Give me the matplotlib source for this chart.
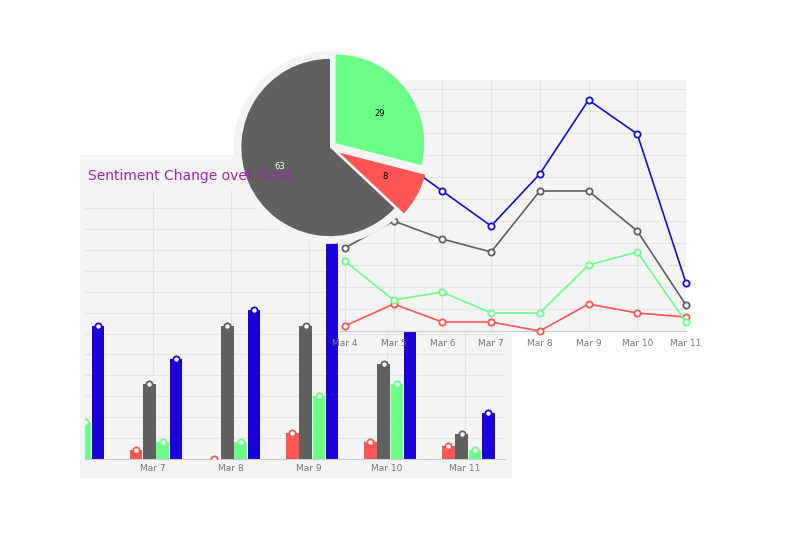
import matplotlib
matplotlib.use("Agg")
import matplotlib.pyplot as plt
from matplotlib.ticker import MultipleLocator
import numpy as np

dates = ["Mar 4", "Mar 5", "Mar 6", "Mar 7", "Mar 8", "Mar 9", "Mar 10", "Mar 11"]
negative = [1.0, 5.4, 1.8, 1.8, 0.0, 5.4, 3.6, 2.8]
neutral = [16.6, 22.0, 18.4, 15.8, 28.0, 28.0, 20.0, 5.2]
positive = [14.0, 6.2, 7.8, 3.6, 3.6, 13.2, 15.8, 1.8]
total = [26.0, 35.0, 28.0, 21.0, 31.4, 46.2, 39.4, 9.6]
pie_labels = ["Positive", "Negative", "Neutral"]
pie_values = [29, 8, 63]

colors = ["#ff5555", "#606060", "#6bff88", "#1a00d9"]
series = [negative, neutral, positive, total]
W, H = 791, 558
fig = plt.figure(figsize=(W/100, H/100), dpi=100)
fig.patch.set_facecolor("white")

def rect(x0, y0, x1, y1):
    return [x0/W, 1-y1/H, (x1-x0)/W, (y1-y0)/H]

def style(ax):
    ax.set_facecolor("#f4f4f4")
    for s in ax.spines.values():
        s.set_visible(False)
    ax.spines["bottom"].set_visible(True)
    ax.spines["bottom"].set_color("#cccccc")
    ax.grid(True, color="#e4e4e4", lw=0.8)
    ax.set_axisbelow(True)
    ax.tick_params(length=0, labelsize=6.5, labelcolor="#777777")
    ax.yaxis.set_major_locator(MultipleLocator(4.4))
    ax.set_yticklabels([])

# background panel for bar chart
bg = fig.add_axes(rect(80, 155, 512, 478)); bg.set_facecolor("#f4f4f4")
bg.set_xticks([]); bg.set_yticks([])
for s in bg.spines.values(): s.set_visible(False)
fig.text(88/W, 1-176/H, "Sentiment Change over Time", color="#a424b4", fontsize=10, va="center")

ax1 = fig.add_axes(rect(85, 190, 505, 459))
style(ax1)
x = np.arange(len(dates))
w = 0.17
for k, (vals, c) in enumerate(zip(series, colors)):
    xs = x + (k-1.5)*w + 0.04
    ax1.bar(xs, vals, width=w*0.95, color=c, zorder=2)
    ax1.plot(xs, vals, "o", ms=4.5, mfc="white", mec=c, mew=1.3, ls="none", zorder=3)
ax1.set_xticks(x); ax1.set_xticklabels(dates)
ax1.set_xlim(2.13, 7.51)
ax1.set_ylim(0, 56.6)

# line chart
ax2 = fig.add_axes(rect(340, 80, 686, 331))
style(ax2)
for vals, c in zip(series, colors):
    lc = "#1010e0" if c == "#1a00d9" else c
    ax2.plot(x, vals, "-o", color=lc, lw=1.2, ms=4.5, mfc="white", mec=lc, mew=1.3, clip_on=False, zorder=3)
ax2.set_xticks(x); ax2.set_xticklabels(dates)
ax2.set_xlim(-0.1, 7.0)
ax2.set_ylim(0, 50.2)
ax2.tick_params(pad=6)

# pie
ax3 = fig.add_axes(rect(230, 50, 430, 245))
ax3.set_aspect("equal")
ax3.add_patch(plt.Circle((0, 0), 1.08, color="#f3f3f3", zorder=0))
wedges, texts = ax3.pie(pie_values, colors=[colors[2], colors[0], colors[1]], startangle=90,
                        counterclock=False, explode=[0.08, 0.12, 0.0], radius=1.0,
                        labels=[str(v) for v in pie_values], labeldistance=0.55,
                        textprops=dict(fontsize=6))
texts[2].set_color("white")
ax3.set_xlim(-1.1, 1.1); ax3.set_ylim(-1.1, 1.1)

fig.savefig("out.png", dpi=100)
